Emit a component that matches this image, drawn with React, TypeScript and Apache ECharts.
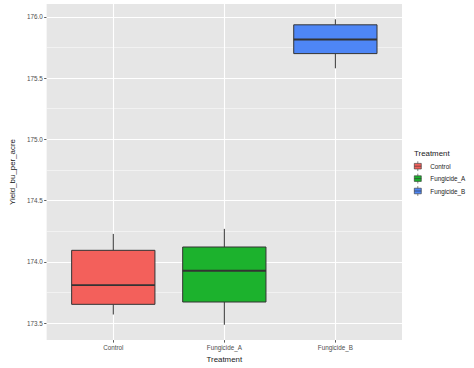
import React, { useEffect, useRef } from "react";
import * as echarts from "echarts";

const categories = ["Control", "Fungicide_A", "Fungicide_B"];
// [lower whisker, Q1, median, Q3, upper whisker]
const controlBox = [173.57, 173.653, 173.81, 174.094, 174.228];
const fungicideABox = [173.486, 173.672, 173.927, 174.121, 174.269];
const fungicideBBox = [175.58, 175.70, 175.815, 175.935, 175.98];
const boxes = [controlBox, fungicideABox, fungicideBBox];
const colors = ["#F3605B", "#1CB22D", "#4E86F6"];
const yTicks = [173.5, 174.0, 174.5, 175.0, 175.5, 176.0];
const yMinor = [173.75, 174.25, 174.75, 175.25, 175.75];
const xTicks = [1, 2, 3];
const yMin = 173.361;
const yMax = 176.105;

const FONT = "Liberation Sans, Arial, sans-serif";

const renderBox = (params: any, api: any) => {
  const x = api.value(0);
  const lo = api.value(1);
  const q1 = api.value(2);
  const med = api.value(3);
  const q3 = api.value(4);
  const hi = api.value(5);
  const pLo = api.coord([x, lo]);
  const pQ1 = api.coord([x, q1]);
  const pMed = api.coord([x, med]);
  const pQ3 = api.coord([x, q3]);
  const pHi = api.coord([x, hi]);
  const half = api.size([0.75, 0])[0] / 2;
  const fill = api.visual("color");
  const stroke = "#333333";
  return {
    type: "group",
    children: [
      { type: "line", shape: { x1: pHi[0], y1: pHi[1], x2: pQ3[0], y2: pQ3[1] }, style: { stroke, lineWidth: 1 } },
      { type: "line", shape: { x1: pQ1[0], y1: pQ1[1], x2: pLo[0], y2: pLo[1] }, style: { stroke, lineWidth: 1 } },
      {
        type: "rect",
        shape: { x: pQ3[0] - half, y: pQ3[1], width: half * 2, height: pQ1[1] - pQ3[1] },
        style: { fill, stroke, lineWidth: 1 },
      },
      {
        type: "line",
        shape: { x1: pMed[0] - half, y1: pMed[1], x2: pMed[0] + half, y2: pMed[1] },
        style: { stroke, lineWidth: 1.8 },
      },
    ],
  };
};

const keyIcon =
  "path://M5,0L5,3M0,3L10,3L10,11L0,11ZM0,7L10,7M5,11L5,14";

export default function App() {
  const ref = useRef<HTMLDivElement>(null);
  useEffect(() => {
    if (!ref.current) return;
    const chart = echarts.init(ref.current, null, { renderer: "svg" });
    const boxSeries = categories.map((name, i) => ({
      name,
      type: "custom",
      renderItem: renderBox,
      itemStyle: { color: colors[i] },
      encode: { x: 0, y: [1, 2, 3, 4, 5] },
      data: [[xTicks[i], ...boxes[i]]],
      z: 5,
    }));
    const gridLines = [
      ...yMinor.map((v) => ({ yAxis: v, lineStyle: { width: 0.5 } })),
      ...yTicks.map((v) => ({ yAxis: v, lineStyle: { width: 1.1 } })),
      ...xTicks.map((v) => ({ xAxis: v, lineStyle: { width: 1.1 } })),
    ];
    chart.setOption({
      animation: false,
      backgroundColor: "#FFFFFF",
      textStyle: { fontFamily: FONT },
      grid: {
        left: 34,
        top: 4,
        width: 368,
        height: 340,
        show: true,
        backgroundColor: "#E6E6E6",
        borderWidth: 0,
      },
      xAxis: {
        type: "value",
        min: 0.4,
        max: 3.6,
        name: "Treatment",
        nameLocation: "middle",
        nameGap: 13,
        nameTextStyle: { fontSize: 7.9, color: "#1A1A1A" },
        axisLine: { show: false },
        axisTick: { show: true, length: 2.5, lineStyle: { color: "#333333", width: 0.8 }, customValues: xTicks },
        axisLabel: {
          customValues: xTicks,
          fontSize: 6.3,
          color: "#4D4D4D",
          margin: 4,
          formatter: (v: number) => categories[Math.round(v) - 1] ?? "",
        },
        splitLine: { show: false },
      },
      yAxis: {
        type: "value",
        min: yMin,
        max: yMax,
        name: "Yield_bu_per_acre",
        nameLocation: "middle",
        nameGap: 28,
        nameRotate: 90,
        nameTextStyle: { fontSize: 7.9, color: "#1A1A1A" },
        axisLine: { show: false },
        axisTick: { show: true, length: 2.5, lineStyle: { color: "#333333", width: 0.8 }, customValues: yTicks },
        axisLabel: {
          customValues: yTicks,
          fontSize: 6.3,
          color: "#4D4D4D",
          margin: 4,
          formatter: (v: number) => v.toFixed(1),
        },
        splitLine: { show: false },
      },
      legend: {
        orient: "vertical",
        left: 414,
        top: 161,
        padding: 0,
        itemWidth: 7,
        itemHeight: 10,
        itemGap: 2,
        icon: keyIcon,
        itemStyle: { borderColor: "#333333", borderWidth: 0.6 },
        textStyle: { fontSize: 6.3, color: "#1A1A1A", padding: [0, 0, 0, 4] },
        data: categories,
      },
      graphic: [
        {
          type: "text",
          left: 414,
          top: 149,
          style: { text: "Treatment", fontSize: 7.9, fill: "#1A1A1A", fontFamily: FONT },
        },
      ],
      series: [
        {
          name: "grid",
          type: "line",
          data: [],
          z: 1,
          markLine: {
            silent: true,
            symbol: "none",
            label: { show: false },
            lineStyle: { color: "#FFFFFF", type: "solid" },
            data: gridLines,
          },
        },
        ...boxSeries,
      ],
    });
    return () => chart.dispose();
  }, []);
  return <div ref={ref} style={{ position: "absolute", left: 0, top: 0, width: 474, height: 368 }} />;
}
